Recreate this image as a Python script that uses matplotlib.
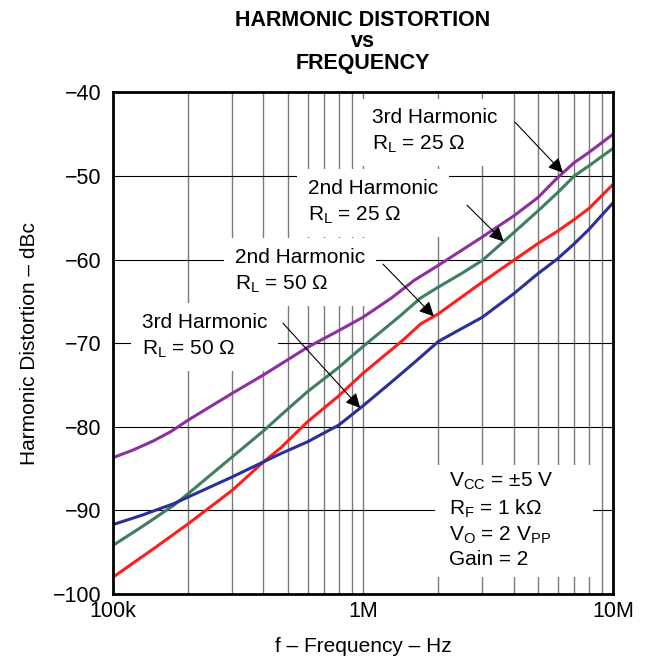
import numpy as np
import matplotlib
matplotlib.use('Agg')
import matplotlib.pyplot as plt
from matplotlib.patches import Rectangle
from matplotlib.ticker import FixedLocator, NullFormatter

plt.rcParams['font.family'] = ['Liberation Sans', 'DejaVu Sans']
plt.rcParams['mathtext.default'] = 'regular'

# ── data ────────────────────────────────────────────
# 3rd harmonic, RL = 25 ohm (purple)
freq_h3_25 = [1e5, 1.2e5, 1.45e5, 1.7e5, 2e5, 3e5, 4e5, 6e5, 8e5, 1e6, 1.3e6, 1.6e6, 2e6, 3e6, 4e6, 5e6, 6e6, 7e6, 8e6, 1e7]
h3_25 = [-83.7, -82.8, -81.7, -80.6, -79.2, -76.0, -73.8, -70.5, -68.5, -66.9, -64.6, -62.5, -60.7, -57.3, -54.8, -52.6, -50.2, -48.4, -47.2, -45.0]

# 2nd harmonic, RL = 25 ohm (green)
freq_h2_25 = [1e5, 1.3e5, 1.75e5, 2e5, 3e5, 4e5, 4.7e5, 6e5, 8e5, 1e6, 1.4e6, 1.7e6, 2e6, 2.5e6, 3e6, 4e6, 5e6, 6e6, 7e6, 8e6, 1e7]
h2_25 = [-94.2, -92.0, -89.4, -88.0, -83.6, -80.5, -78.6, -75.8, -72.9, -70.4, -66.8, -64.6, -63.3, -61.6, -60.1, -56.8, -54.2, -52.0, -50.0, -48.8, -46.7]

# 2nd harmonic, RL = 50 ohm (red)
freq_h2_50 = [1e5, 1.5e5, 2e5, 3e5, 4e5, 4.7e5, 6e5, 8e5, 1e6, 1.45e6, 1.7e6, 2e6, 3e6, 4e6, 5e6, 6e6, 7e6, 8e6, 1e7]
h2_50 = [-98.0, -94.3, -91.6, -87.6, -84.2, -82.5, -79.4, -76.3, -73.6, -69.6, -67.7, -66.5, -62.7, -60.1, -58.1, -56.6, -55.2, -53.9, -51.0]

# 3rd harmonic, RL = 50 ohm (blue)
freq_h3_50 = [1e5, 1.3e5, 1.75e5, 2e5, 3e5, 4e5, 4.7e5, 6e5, 8e5, 1e6, 1.33e6, 1.65e6, 2e6, 2.5e6, 3e6, 4e6, 5e6, 6e6, 7e6, 8e6, 1e7]
h3_50 = [-91.7, -90.6, -89.2, -88.4, -86.0, -84.2, -83.2, -81.8, -79.8, -77.5, -74.4, -72.0, -69.8, -68.2, -66.9, -64.1, -61.7, -59.9, -58.1, -56.4, -53.2]

x_ticks = [1e5, 1e6, 1e7]
x_labels = ['100k', '1M', '10M']
y_ticks = [-100, -90, -80, -70, -60, -50, -40]
y_labels = ['\u2212100', '\u221290', '\u221280', '\u221270', '\u221260', '\u221250', '\u221240']

fig = plt.figure(figsize=(6.6, 6.59), dpi=100)
ax = fig.add_axes([0.171, 0.0986, 0.758, 0.7614])

ax.set_xscale('log')
ax.set_xlim(1e5, 1e7)
ax.set_ylim(-100, -40)

# grid: grey verticals, black horizontals
minor = [m * d for d in (1e5, 1e6) for m in range(2, 10)]
for xv in minor + [1e6]:
    ax.axvline(xv, color='#7a7a7a', lw=1.0, zorder=1)
for yv in y_ticks[1:-1]:
    ax.axhline(yv, color='black', lw=0.8, zorder=1)

kw = dict(lw=2.2, zorder=3, solid_joinstyle='round', solid_capstyle='butt')
ax.plot(freq_h3_25, h3_25, color='#8E2F9F', **kw)
ax.plot(freq_h2_25, h2_25, color='#3E7F5E', **kw)
ax.plot(freq_h2_50, h2_50, color='#FF1E1E', **kw)
ax.plot(freq_h3_50, h3_50, color='#2B3098', **kw)

ax.xaxis.set_major_locator(FixedLocator(x_ticks))
ax.set_xticklabels(x_labels)
ax.xaxis.set_minor_locator(FixedLocator(minor))
ax.xaxis.set_minor_formatter(NullFormatter())
ax.set_yticks(y_ticks)
ax.set_yticklabels(y_labels)
ax.tick_params(which='both', length=0, labelsize=15.5)
ax.tick_params(axis='x', pad=5)
ax.tick_params(axis='y', pad=8)

for sp in ax.spines.values():
    sp.set_linewidth(2.0)
    sp.set_zorder(5)

ax.set_xlabel('f \u2013 Frequency \u2013 Hz', fontsize=15, labelpad=11)
ax.set_ylabel('Harmonic Distortion \u2013 dBc', fontsize=15, labelpad=10)
ax.set_title('HARMONIC DISTORTION\nvs\nFREQUENCY', fontsize=15.5, fontweight='bold',
             linespacing=1.02, pad=17)


def px(xp, yp):
    # pixel position -> axes fraction
    return ((xp - 113) / 500.0, (594 - yp) / 502.0)


def at(freqs, vals, f):
    return (f, float(np.interp(np.log10(f), np.log10(freqs), vals)))


bbox = dict(facecolor='white', edgecolor='none', pad=8)
labels = [
    ('3rd Harmonic\nR$_L$ = 25 \u03a9', (372, 108), (515, 122), at(freq_h3_25, h3_25, 6.3e6)),
    ('2nd Harmonic\nR$_L$ = 25 \u03a9', (308, 179), (467, 205), at(freq_h2_25, h2_25, 3.65e6)),
    ('2nd Harmonic\nR$_L$ = 50 \u03a9', (235, 248), (383, 264), at(freq_h2_50, h2_50, 1.92e6)),
    ('3rd Harmonic\nR$_L$ = 50 \u03a9', (142, 313), (283, 323), at(freq_h3_50, h3_50, 0.975e6)),
]
for txt, tpos, apos, tip in labels:
    ax.text(*px(*tpos), txt, transform=ax.transAxes, fontsize=15, va='top', ha='left',
            linespacing=1.4, bbox=bbox, zorder=2)
    ax.annotate('', xy=tip, xycoords='data', xytext=px(*apos), textcoords='axes fraction',
                arrowprops=dict(arrowstyle='-|>', color='black', lw=0.8,
                                mutation_scale=22, shrinkA=0, shrinkB=0), zorder=4)

# white mask behind the test conditions
x0, y1 = px(435, 465)
x1, y0 = px(593, 577)
ax.add_patch(Rectangle((x0, y0), x1 - x0, y1 - y0, transform=ax.transAxes,
                       facecolor='white', edgecolor='none', zorder=2))
cond = 'V$_{CC}$ = \u00b15 V\nR$_F$ = 1 k\u03a9\nV$_O$ = 2 V$_{PP}$\nGain = 2'
ax.text(*px(449, 471), cond, transform=ax.transAxes, fontsize=15, va='top', ha='left',
        linespacing=1.3, zorder=2.5)

fig.savefig('out.png', dpi=100)
